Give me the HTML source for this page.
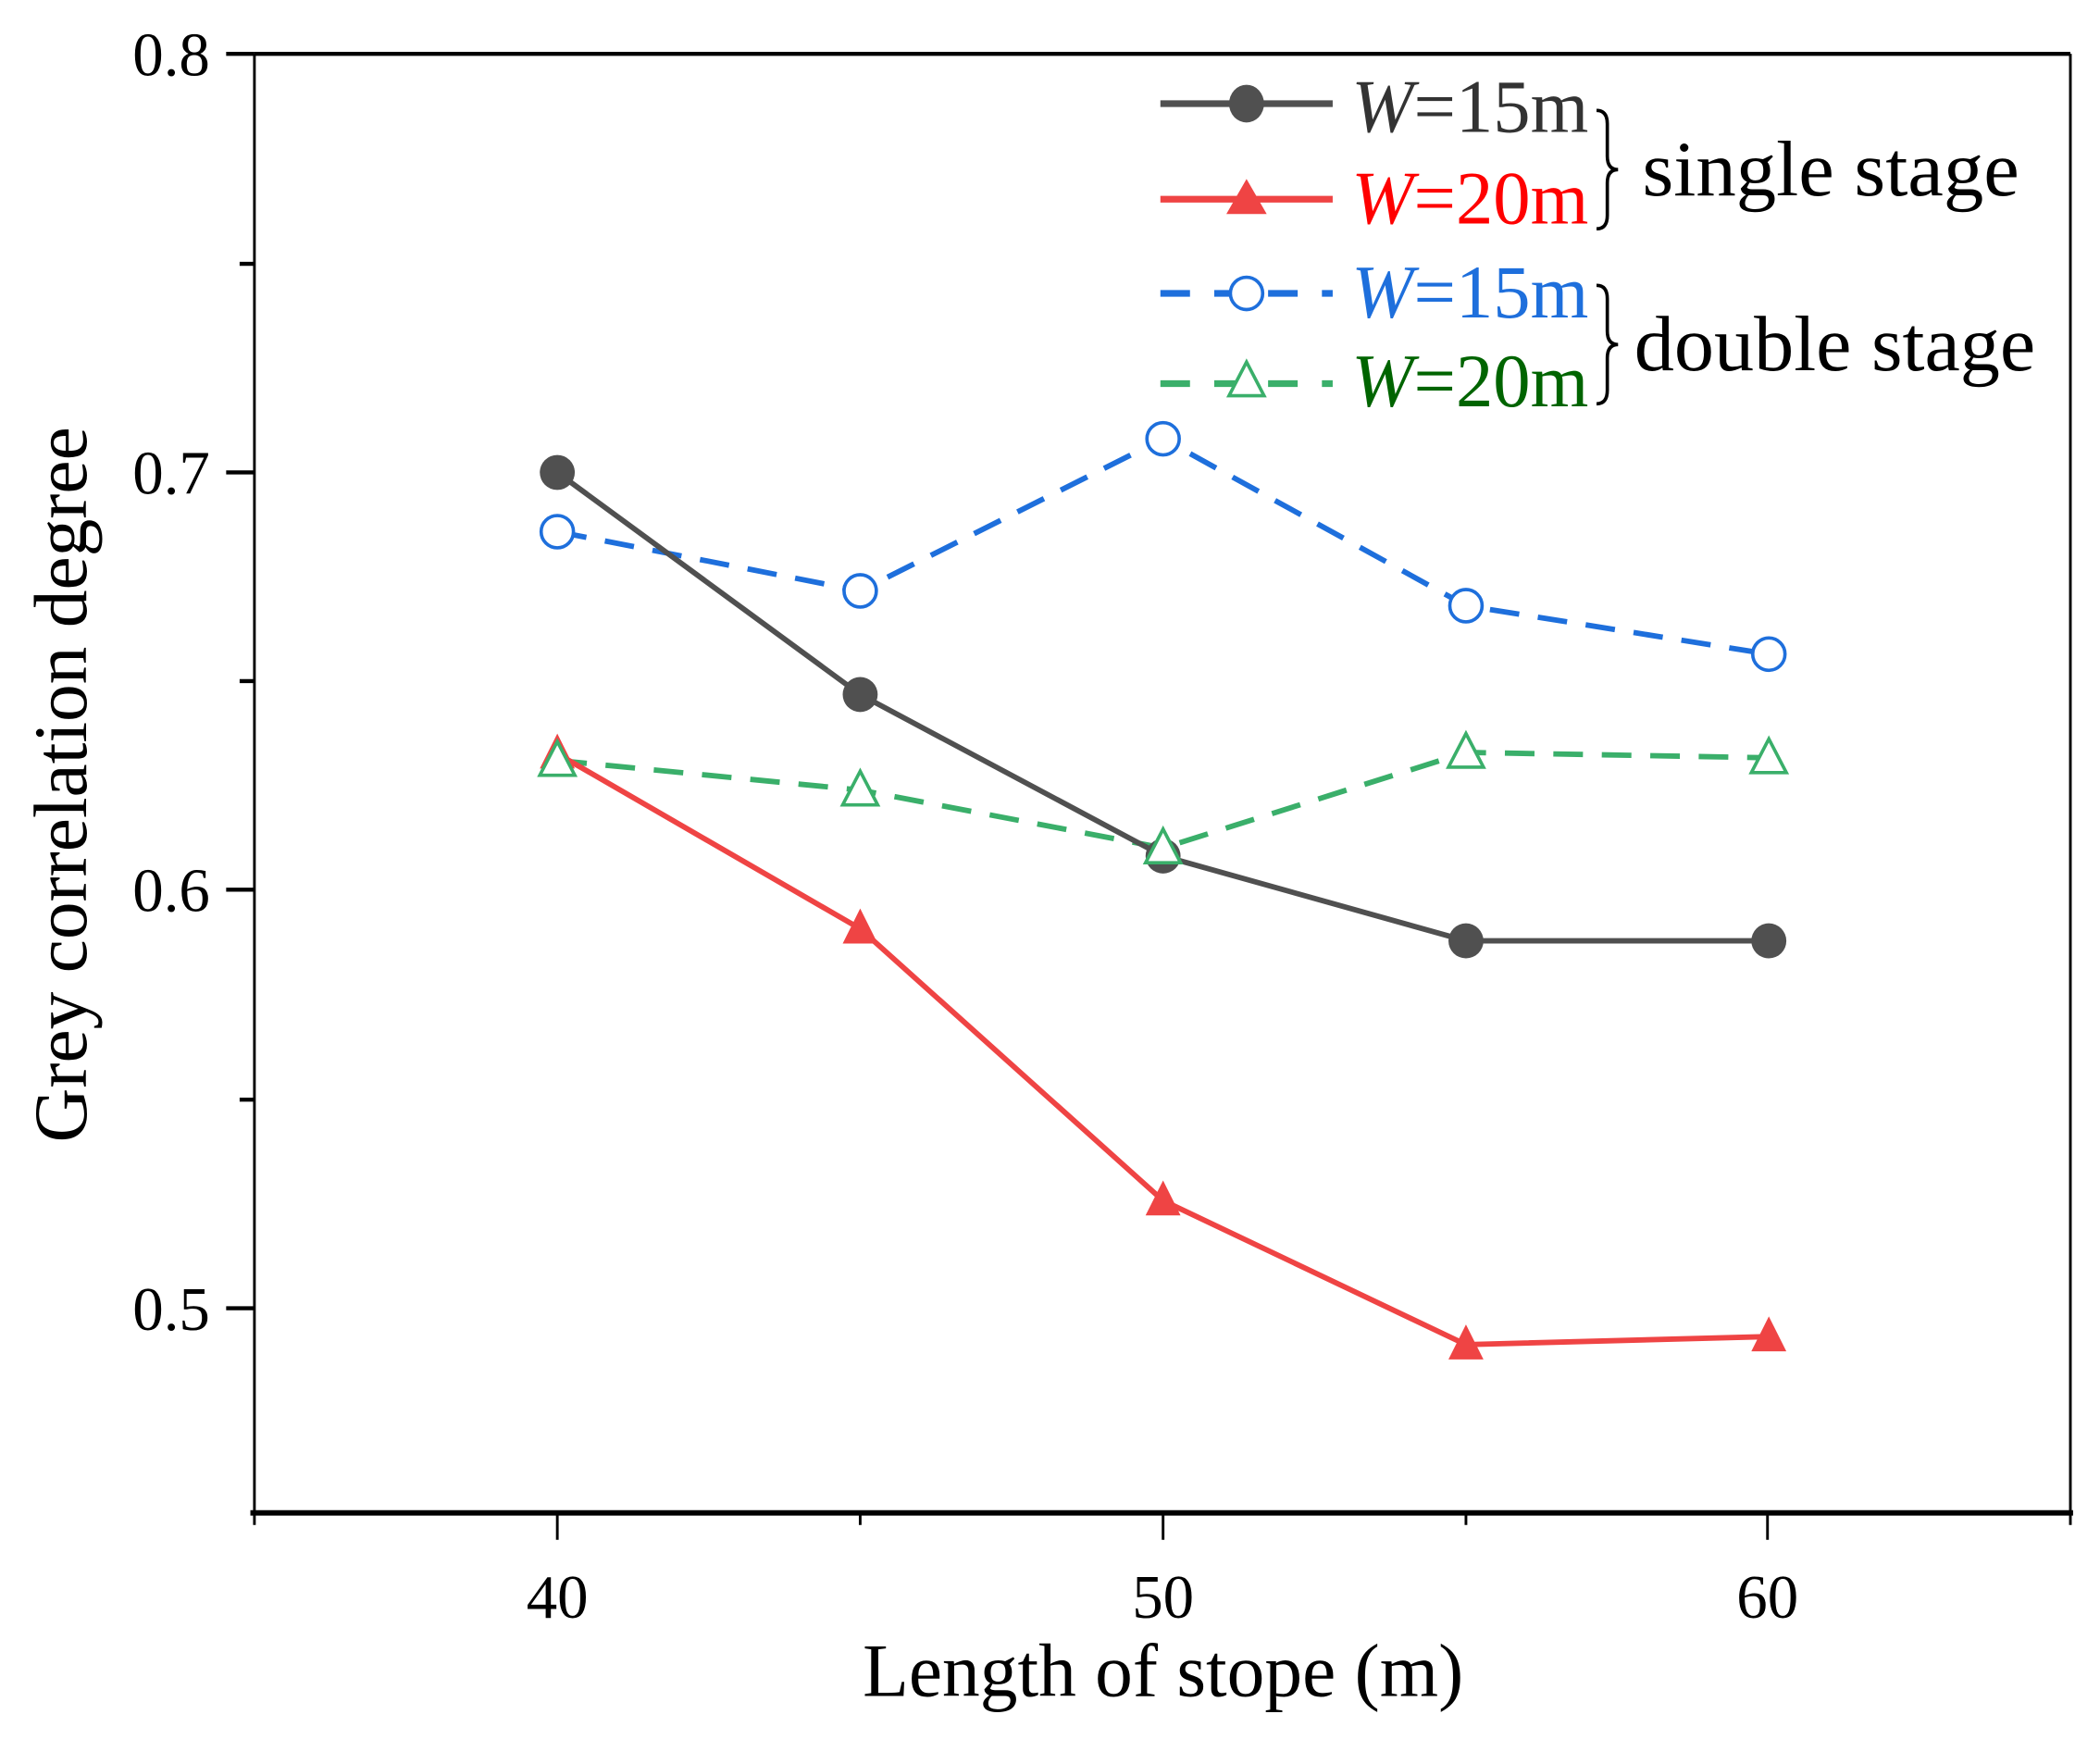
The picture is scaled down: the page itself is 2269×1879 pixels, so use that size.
<!DOCTYPE html>
<html><head><meta charset="utf-8"><style>html,body{margin:0;padding:0;background:#fff}svg{display:block}</style></head>
<body>
<svg width="2269" height="1879" viewBox="0 0 1560 1292" preserveAspectRatio="none" xmlns="http://www.w3.org/2000/svg" font-family="Liberation Serif, serif">
<rect width="1560" height="1292" fill="#fff"/>
<g stroke="#000" fill="none">
<line x1="189" y1="40" x2="1538" y2="40" stroke-width="3"/>
<line x1="1538" y1="40" x2="1538" y2="1133" stroke-width="2"/>
<line x1="189" y1="40" x2="189" y2="1133" stroke-width="2"/>
<line x1="186" y1="1124" x2="1540" y2="1124" stroke-width="4"/>
<line x1="168" y1="40" x2="189" y2="40" stroke-width="3"/>
<line x1="168" y1="351" x2="189" y2="351" stroke-width="3"/>
<line x1="168" y1="661" x2="189" y2="661" stroke-width="3"/>
<line x1="168" y1="972" x2="189" y2="972" stroke-width="3"/>
<line x1="178" y1="196" x2="189" y2="196" stroke-width="3"/>
<line x1="178" y1="506" x2="189" y2="506" stroke-width="3"/>
<line x1="178" y1="817" x2="189" y2="817" stroke-width="3"/>
<line x1="414" y1="1124" x2="414" y2="1144" stroke-width="2"/>
<line x1="864" y1="1124" x2="864" y2="1144" stroke-width="2"/>
<line x1="1313" y1="1124" x2="1313" y2="1144" stroke-width="2"/>
<line x1="639" y1="1124" x2="639" y2="1133" stroke-width="2"/>
<line x1="1089" y1="1124" x2="1089" y2="1133" stroke-width="2"/>
</g>
<g font-size="46" fill="#000" text-anchor="end">
<text x="156" y="56">0.8</text>
<text x="156" y="367">0.7</text>
<text x="156" y="677">0.6</text>
<text x="156" y="988">0.5</text>
</g>
<g font-size="46" fill="#000" text-anchor="middle">
<text x="414" y="1202">40</text>
<text x="864" y="1202">50</text>
<text x="1313" y="1202">60</text>
</g>
<text x="864" y="1260" font-size="56" text-anchor="middle">Length of stope (m)</text>
<text transform="translate(64,583) rotate(-90)" font-size="56" text-anchor="middle">Grey correlation degree</text>
<polyline points="414,395 639,439 864,326 1089,450 1314,486" fill="none" stroke="#1e6fdc" stroke-width="4" stroke-dasharray="22,14"/>
<polyline points="414,565 639,587 864,630 1089,559 1314,563" fill="none" stroke="#3aaf6a" stroke-width="4" stroke-dasharray="22,14"/>
<polyline points="414,351 639,516 864,636 1089,699 1314,699" fill="none" stroke="#505050" stroke-width="4"/>
<polyline points="414,560 639,690 864,892 1089,999 1314,993" fill="none" stroke="#ef4444" stroke-width="4"/>
<g fill="#505050">
<circle cx="414" cy="351" r="13"/><circle cx="639" cy="516" r="13"/><circle cx="864" cy="636" r="13"/><circle cx="1089" cy="699" r="13"/><circle cx="1314" cy="699" r="13"/>
</g>
<g fill="#ef4444">
<polygon points="414,545 401,571 427,571"/><polygon points="639,675 626,701 652,701"/><polygon points="864,877 851,903 877,903"/><polygon points="1089,984 1076,1010 1102,1010"/><polygon points="1314,978 1301,1004 1327,1004"/>
</g>
<g fill="#fff" stroke="#1e6fdc" stroke-width="2.5">
<circle cx="414" cy="395" r="12"/><circle cx="639" cy="439" r="12"/><circle cx="864" cy="326" r="12"/><circle cx="1089" cy="450" r="12"/><circle cx="1314" cy="486" r="12"/>
</g>
<g fill="#fff" stroke="#3aaf6a" stroke-width="2.5">
<polygon points="414,551 401,576 427,576"/><polygon points="639,573 626,598 652,598"/><polygon points="864,616 851,641 877,641"/><polygon points="1089,545 1076,570 1102,570"/><polygon points="1314,549 1301,574 1327,574"/>
</g>
<line x1="862" y1="77" x2="990" y2="77" stroke="#505050" stroke-width="5"/>
<ellipse cx="926" cy="77" rx="13" ry="14" fill="#505050"/>
<line x1="862" y1="148" x2="990" y2="148" stroke="#ef4444" stroke-width="5"/>
<polygon points="926,133 911,159 941,159" fill="#ef4444"/>
<line x1="862" y1="218" x2="990" y2="218" stroke="#1e6fdc" stroke-width="5" stroke-dasharray="22,18"/>
<circle cx="926" cy="218" r="12" fill="#fff" stroke="#1e6fdc" stroke-width="2.5"/>
<line x1="862" y1="285" x2="990" y2="285" stroke="#3aaf6a" stroke-width="5" stroke-dasharray="22,18"/>
<polygon points="926,269 913,294 939,294" fill="#fff" stroke="#3aaf6a" stroke-width="2.5"/>
<g font-size="56">
<text x="1004" y="98" fill="#333" textLength="176" lengthAdjust="spacingAndGlyphs"><tspan font-style="italic">W</tspan>=15m</text>
<text x="1004" y="166" fill="#ff0000" textLength="176" lengthAdjust="spacingAndGlyphs"><tspan font-style="italic">W</tspan>=20m</text>
<text x="1004" y="236" fill="#1e6fdc" textLength="176" lengthAdjust="spacingAndGlyphs"><tspan font-style="italic">W</tspan>=15m</text>
<text x="1004" y="302" fill="#006400" textLength="176" lengthAdjust="spacingAndGlyphs"><tspan font-style="italic">W</tspan>=20m</text>
</g>
<g font-size="58" fill="#000">
<text x="1220" y="145" textLength="280" lengthAdjust="spacingAndGlyphs">single stage</text>
<text x="1214" y="275" textLength="298" lengthAdjust="spacingAndGlyphs">double stage</text>
</g>
<g fill="none" stroke="#000" stroke-width="2.5">
<path d="M1186,82 q8,0 8,10 v24 q0,10 8,10 q-8,0 -8,10 v24 q0,10 -8,10"/>
<path d="M1186,212 q8,0 8,10 v24 q0,10 8,10 q-8,0 -8,10 v24 q0,10 -8,10"/>
</g>
</svg>
</body></html>
